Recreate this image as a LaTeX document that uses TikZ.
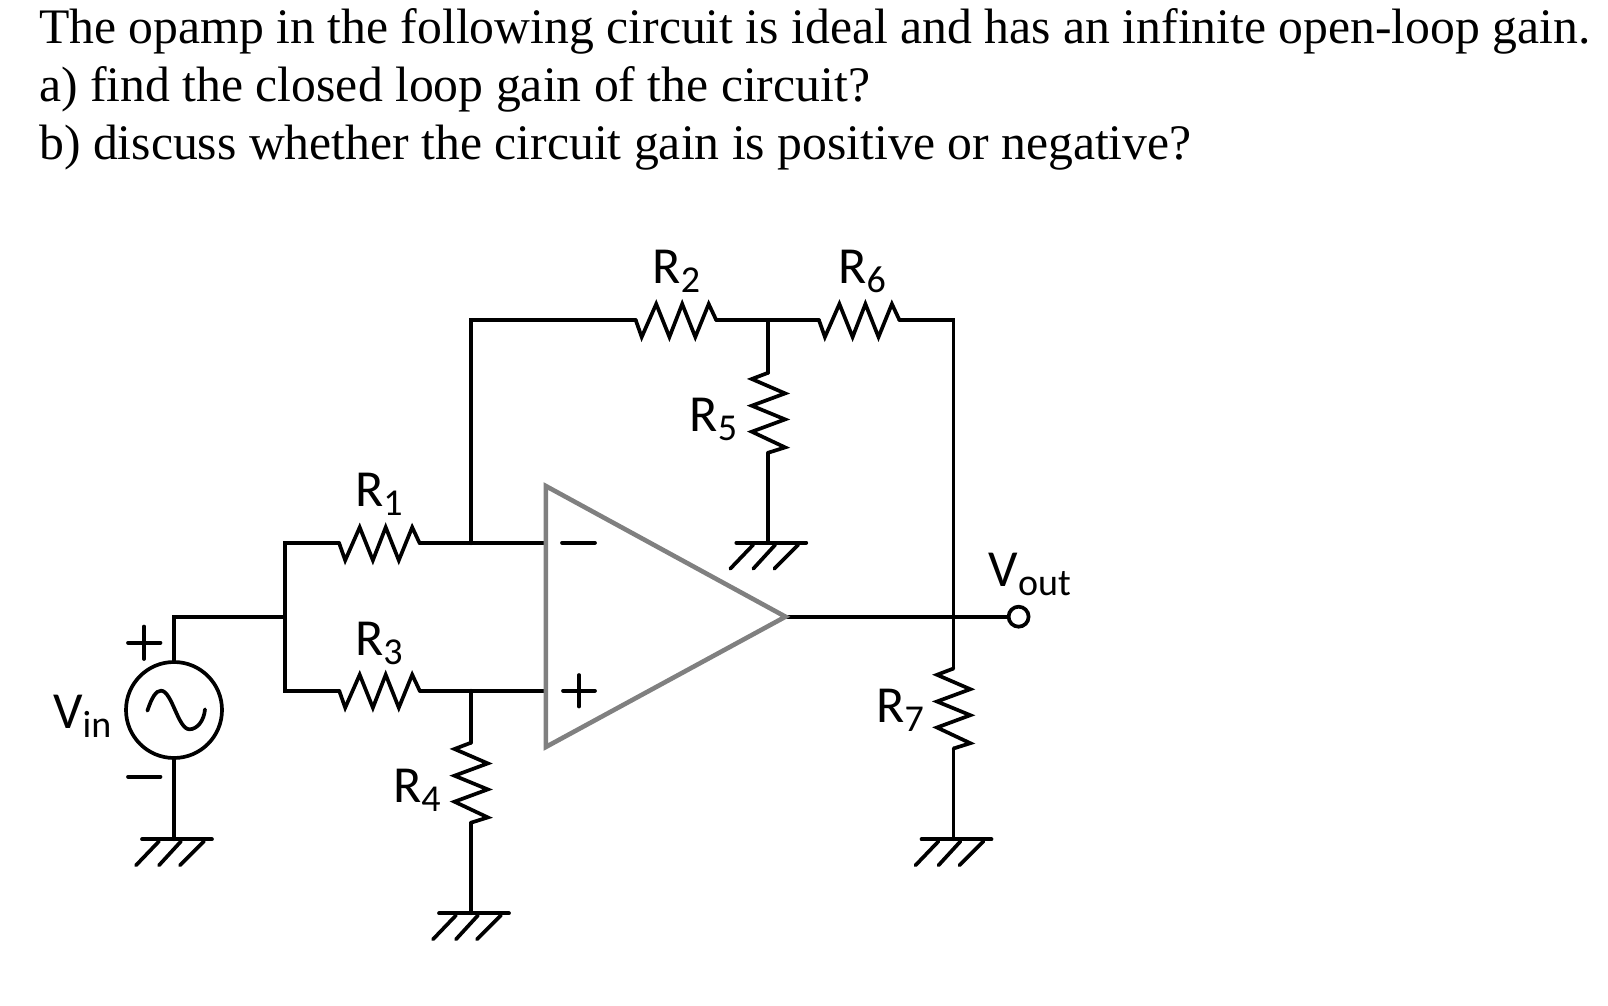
\documentclass[tikz,border=0pt]{standalone}
\usepackage{fontspec}
\setmainfont{Liberation Serif}
\newfontfamily\labfont{Carlito}
\newcommand{\subt}[1]{{\fontsize{38}{38}\selectfont\raisebox{-9pt}{#1}}}
\tikzset{
  wire/.style={line width=3.7pt,line join=miter,line cap=round},
  hres/.pic={
    \draw[wire] (0,0) coordinate (-a) -- (6,17) -- (20.5,-16) -- (33.7,17) -- (46.5,-16) -- (59.6,17) -- (73,-16) -- (80.5,0) coordinate (-b);
  },
  vres/.pic={
    \draw[wire] (0,0) coordinate (-a) -- (-16.5,6.3) -- (16.8,20.7) -- (-16.5,33) -- (16.8,46.7) -- (-16.5,59) -- (16.8,74.7) -- (0,80) coordinate (-b);
  },
  earth/.pic={
    \coordinate (-t) at (0,0);
    \draw[wire] (-32,0) -- (38,0);
    \draw[wire] (-15,2) -- (-38,26);
    \draw[wire] (7,2) -- (-15,26);
    \draw[wire] (30,2) -- (6,26);
  },
  lab/.style={font=\labfont\fontsize{52}{52}\selectfont,inner sep=0pt,anchor=base west},
  head/.style={font=\fontsize{49.7}{49.7}\selectfont,inner sep=0pt,anchor=base west},
  amp/.style={draw=black!50,line width=4.6pt,line join=miter},
}
\begin{document}
\begin{tikzpicture}[x=1pt,y=-1pt]
\useasboundingbox (0,0) rectangle (1608,1006);
% Question text
\node[head] (q1) at (39,43.5) {The opamp in the following circuit is ideal and has an infinite open-loop gain.};
\node[head] (q2) at (39,101.5) {a) find the closed loop gain of the circuit?};
\node[head] (q3) at (39,159) {b) discuss whether the circuit gain is positive or negative?};
% Components
\pic (r1) at (339.2,543.3) {hres};
\pic (r3) at (339.2,690.7) {hres};
\pic (r2) at (635.7,320) {hres};
\pic (r6) at (818.9,320) {hres};
\pic (r4) at (471,742.7) {vres};
\pic (r5) at (768.3,372.7) {vres};
\pic (r7) at (953.5,668.5) {vres};
\pic (g1) at (174,839.3) {earth};
\pic (g4) at (471,913.3) {earth};
\pic (g5) at (768.3,542.7) {earth};
\pic (g7) at (953.5,839.3) {earth};
% Source
\node[circle,draw,line width=3.7pt,minimum size=96pt,inner sep=0pt] (src) at (174,710) {};
\draw[wire] (147.4,710.7) .. controls (152,697) and (156,690.7) .. (161,690.7)
  .. controls (172,690.7) and (178,729.3) .. (189.4,729.3)
  .. controls (197,729.3) and (204,721) .. (205,709.3);
% Op-amp
\coordinate (ot) at (545.8,486);
\coordinate (ob) at (545.8,747);
\coordinate (oo) at (785.5,616.7);
\coordinate (inm) at (545.8,543.3);
\coordinate (inp) at (545.8,690.7);
% Junctions
\coordinate (jin) at (285,616.7);
\coordinate (jfb) at (471,543.3);
\coordinate (jp) at (471,690.7);
\coordinate (jt) at (768.3,320);
\coordinate (jo) at (953.5,616.7);
\coordinate (jc) at (953.5,320);
\node[circle,draw,line width=3.7pt,fill=white,minimum size=20pt,inner sep=0pt] (vo) at (1018.6,616.7) {};
% Wires
\draw[wire] (src.north) -- (174,616.7) -- (jin);
\draw[wire] (r1-a) -- (285,543.3) -- (285,690.7) -- (r3-a);
\draw[wire] (r1-b) -- (inm);
\draw[wire] (r3-b) -- (inp);
\draw[wire] (jfb) -- (471,320) -- (r2-a);
\draw[wire] (r2-b) -- (r6-a);
\draw[wire] (jt) -- (r5-a);
\draw[wire] (r5-b) -- (g5-t);
\draw[wire] (r6-b) -- (jc) -- (r7-a);
\draw[wire] (r7-b) -- (g7-t);
\draw[wire] (jp) -- (r4-a);
\draw[wire] (r4-b) -- (g4-t);
\draw[wire] (src.south) -- (g1-t);
\draw[wire] (oo) -- (vo.west);
\draw[amp] (ot) -- (oo) -- (ob) -- cycle;
% Signs
\draw[wire] (562,542.7) -- (595,542.7);
\draw[wire] (563,690.7) -- (595,690.7);
\draw[wire] (579,675) -- (579,706.5);
\draw[wire] (128,642.7) -- (160.5,642.7);
\draw[wire] (144,626.5) -- (144,659);
\draw[wire] (128,776.7) -- (160.5,776.7);
% Labels
\node[lab] (l1) at (355,506.7) {R\subt{1}};
\node[lab] (l2) at (652.5,283.3) {R\subt{2}};
\node[lab] (l3) at (355,655) {R\subt{3}};
\node[lab] (l4) at (393,802.7) {R\subt{4}};
\node[lab] (l5) at (689.5,431.7) {R\subt{5}};
\node[lab] (l6) at (838.3,283.3) {R\subt{6}};
\node[lab] (l7) at (876.3,722.7) {R\subt{7}};
\node[lab] (lin) at (53,728.3) {V\subt{in}};
\node[lab] (lout) at (988.5,586.7) {V\subt{out}};
\end{tikzpicture}
\end{document}
